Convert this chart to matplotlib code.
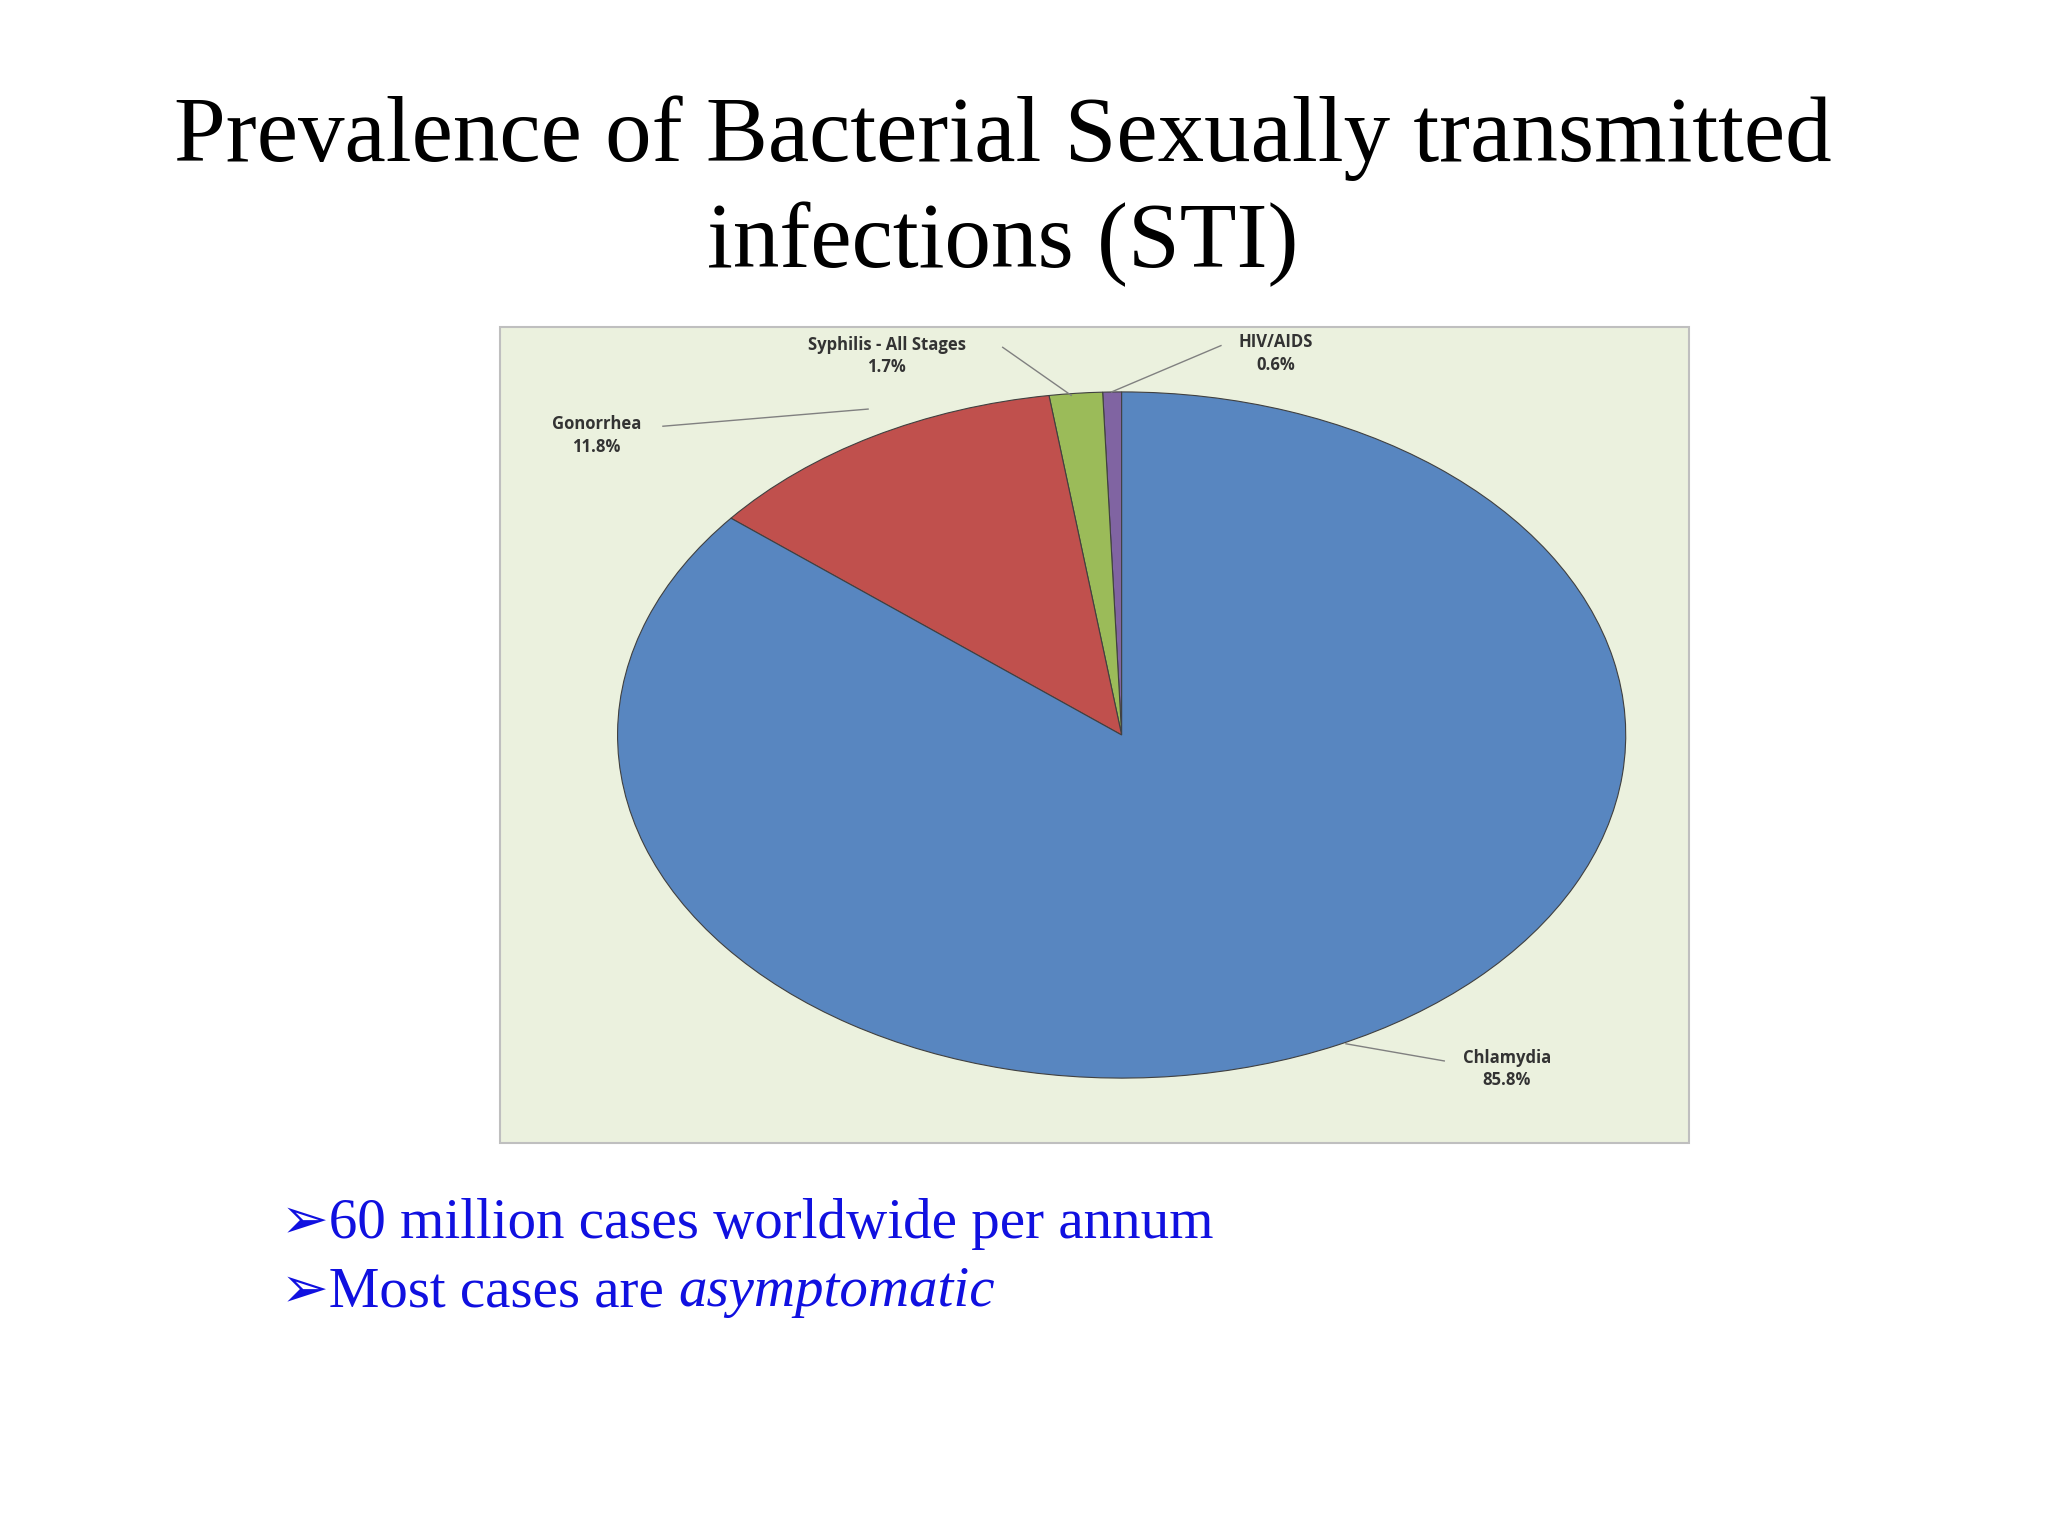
import matplotlib
matplotlib.use("Agg")
import matplotlib.pyplot as plt
from matplotlib.patches import Rectangle

categories = ["HIV/AIDS", "Syphilis - All Stages", "Gonorrhea", "Chlamydia"]
values = [0.6, 1.7, 11.8, 85.8]
colors = ["#8064A2", "#9BBB59", "#C0504D", "#5886C0"]
label_pos = [(0.306, 1.112), (-0.466, 1.104), (-1.042, 0.873), (0.764, -0.973)]
line_pts = [((-0.02, 1.0), (0.197, 1.135)), ((-0.10, 0.99), (-0.236, 1.13)),
            ((-0.503, 0.95), (-0.91, 0.90)), ((0.445, -0.90), (0.64, -0.95))]

W, H = 1552, 1164
fig = plt.figure(figsize=(20.48, 15.36), dpi=100)
fig.patch.set_facecolor("white")

fig.add_artist(Rectangle((379/W, 1-866/H), (1280-379)/W, (866-248)/H,
                         transform=fig.transFigure, facecolor="#EBF1DE",
                         edgecolor="#BFBFBF", lw=1.5, zorder=-5))

ax = fig.add_axes([468/W, 1-817/H, 764/W, 520/H])
ax.set_zorder(2)
ax.patch.set_visible(False)
ax.pie(values, colors=colors, startangle=90, counterclock=True,
       wedgeprops=dict(edgecolor="#404040", linewidth=0.8))
ax.set_aspect("auto")
ax.set_xlim(-1, 1); ax.set_ylim(-1, 1)
ax.axis("off")
for cat, v, (x, y), (p0, p1) in zip(categories, values, label_pos, line_pts):
    ax.plot([p0[0], p1[0]], [p0[1], p1[1]], color="#808080", lw=1, clip_on=False)
    ax.text(x, y, f"{cat}\n{v}%", ha="center", va="center", fontsize=12,
            fontweight="bold", color="#333333", family=["Open Sans", "DejaVu Sans"],
            linespacing=1.3)

fig.text(760/W, 1-105/H, "Prevalence of Bacterial Sexually transmitted",
         ha="center", va="center", fontsize=67, family="Liberation Serif")
fig.text(760/W, 1-185/H, "infections (STI)", ha="center", va="center",
         fontsize=67, family="Liberation Serif")

blue = "#1010E0"
fam = ["Liberation Serif", "DejaVu Sans"]
fig.text(213/W, 1-938/H, "➢60 million cases worldwide per annum", fontsize=41,
         color=blue, family=fam, va="baseline")
t1 = fig.text(213/W, 1-990/H, "➢Most cases are ", fontsize=41, color=blue,
              family=fam, va="baseline")
fig.canvas.draw()
bb = t1.get_window_extent()
x2 = bb.x1 / fig.bbox.width
fig.text(x2, 1-990/H, "asymptomatic", fontsize=41, color=blue,
         family="Liberation Serif", style="italic", va="baseline")

fig.savefig("out.png", dpi=100)
